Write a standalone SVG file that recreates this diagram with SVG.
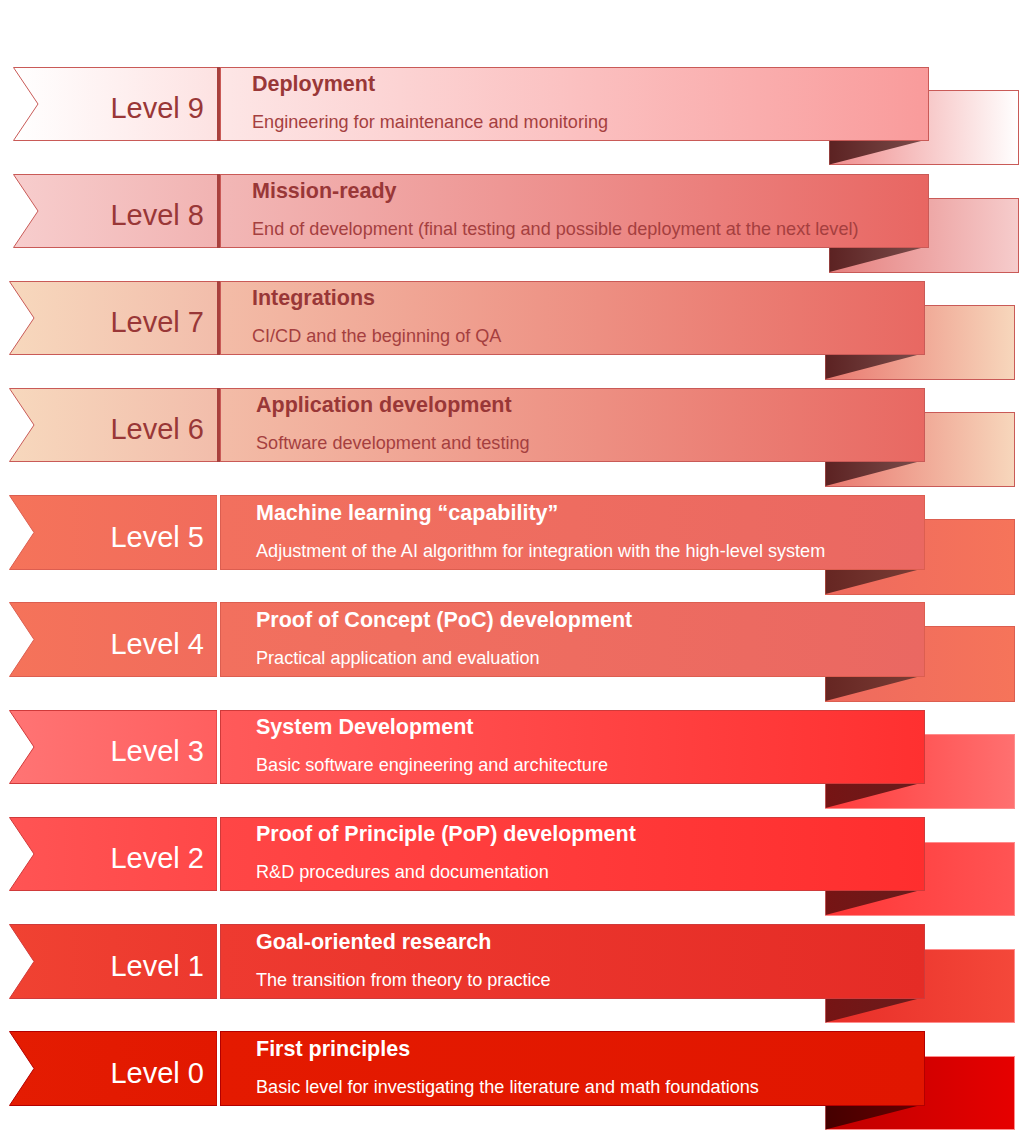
<svg xmlns="http://www.w3.org/2000/svg" width="1024" height="1140" viewBox="0 0 1024 1140">
<defs>
<linearGradient id="l9" x1="0" x2="1" y1="0" y2="0"><stop offset="0" stop-color="#ffffff"/><stop offset="1" stop-color="#fde2e2"/></linearGradient>
<linearGradient id="m9" x1="0" x2="1" y1="0" y2="0"><stop offset="0" stop-color="#fde6e6"/><stop offset="1" stop-color="#f99b9b"/></linearGradient>
<linearGradient id="b9" x1="0" x2="1" y1="0" y2="0"><stop offset="0" stop-color="#ef8d8d"/><stop offset="1" stop-color="#ffffff"/></linearGradient>
<linearGradient id="l8" x1="0" x2="1" y1="0" y2="0"><stop offset="0" stop-color="#f7cdcd"/><stop offset="1" stop-color="#f1b3b2"/></linearGradient>
<linearGradient id="m8" x1="0" x2="1" y1="0" y2="0"><stop offset="0" stop-color="#f2b7b6"/><stop offset="1" stop-color="#e86662"/></linearGradient>
<linearGradient id="b8" x1="0" x2="1" y1="0" y2="0"><stop offset="0" stop-color="#e57f7d"/><stop offset="1" stop-color="#f6cccc"/></linearGradient>
<linearGradient id="l7" x1="0" x2="1" y1="0" y2="0"><stop offset="0" stop-color="#f7d8bd"/><stop offset="1" stop-color="#f2bdab"/></linearGradient>
<linearGradient id="m7" x1="0" x2="1" y1="0" y2="0"><stop offset="0" stop-color="#f3bca7"/><stop offset="1" stop-color="#e86862"/></linearGradient>
<linearGradient id="b7" x1="0" x2="1" y1="0" y2="0"><stop offset="0" stop-color="#e9786f"/><stop offset="1" stop-color="#f7d7bc"/></linearGradient>
<linearGradient id="l5" x1="0" x2="1" y1="0" y2="0"><stop offset="0" stop-color="#f5735a"/><stop offset="1" stop-color="#f16c5c"/></linearGradient>
<linearGradient id="m5" x1="0" x2="1" y1="0" y2="0"><stop offset="0" stop-color="#f2705e"/><stop offset="1" stop-color="#ea6862"/></linearGradient>
<linearGradient id="b5" x1="0" x2="1" y1="0" y2="0"><stop offset="0" stop-color="#ee6a5e"/><stop offset="1" stop-color="#f6745a"/></linearGradient>
<linearGradient id="l3" x1="0" x2="1" y1="0" y2="0"><stop offset="0" stop-color="#ff7474"/><stop offset="1" stop-color="#ff5f5f"/></linearGradient>
<linearGradient id="m3" x1="0" x2="1" y1="0" y2="0"><stop offset="0" stop-color="#ff5a5a"/><stop offset="1" stop-color="#ff3030"/></linearGradient>
<linearGradient id="b3" x1="0" x2="1" y1="0" y2="0"><stop offset="0" stop-color="#ff3c3c"/><stop offset="1" stop-color="#ff7070"/></linearGradient>
<linearGradient id="l2" x1="0" x2="1" y1="0" y2="0"><stop offset="0" stop-color="#ff5454"/><stop offset="1" stop-color="#ff4848"/></linearGradient>
<linearGradient id="m2" x1="0" x2="1" y1="0" y2="0"><stop offset="0" stop-color="#ff4646"/><stop offset="1" stop-color="#ff2e2e"/></linearGradient>
<linearGradient id="b2" x1="0" x2="1" y1="0" y2="0"><stop offset="0" stop-color="#ff3636"/><stop offset="1" stop-color="#ff5454"/></linearGradient>
<linearGradient id="l1" x1="0" x2="1" y1="0" y2="0"><stop offset="0" stop-color="#f04232"/><stop offset="1" stop-color="#ec382e"/></linearGradient>
<linearGradient id="m1" x1="0" x2="1" y1="0" y2="0"><stop offset="0" stop-color="#ee3a30"/><stop offset="1" stop-color="#e52c26"/></linearGradient>
<linearGradient id="b1" x1="0" x2="1" y1="0" y2="0"><stop offset="0" stop-color="#e82e28"/><stop offset="1" stop-color="#f4483a"/></linearGradient>
<linearGradient id="l0" x1="0" x2="1" y1="0" y2="0"><stop offset="0" stop-color="#e41c02"/><stop offset="1" stop-color="#e21800"/></linearGradient>
<linearGradient id="m0" x1="0" x2="1" y1="0" y2="0"><stop offset="0" stop-color="#e41a00"/><stop offset="1" stop-color="#e11600"/></linearGradient>
<linearGradient id="b0" x1="0" x2="1" y1="0" y2="0"><stop offset="0" stop-color="#bf0000"/><stop offset="1" stop-color="#e60000"/></linearGradient>
<linearGradient id="tBrown" x1="0" x2="1" y1="0" y2="0"><stop offset="0" stop-color="#5c2222"/><stop offset="1" stop-color="#7a4c4a"/></linearGradient>
<linearGradient id="tRust" x1="0" x2="1" y1="0" y2="0"><stop offset="0" stop-color="#662622"/><stop offset="1" stop-color="#7a3d36"/></linearGradient>
<linearGradient id="tRed" x1="0" x2="1" y1="0" y2="0"><stop offset="0" stop-color="#761414"/><stop offset="1" stop-color="#6a1c1c"/></linearGradient>
<linearGradient id="tDark" x1="0" x2="1" y1="0" y2="0"><stop offset="0" stop-color="#450000"/><stop offset="1" stop-color="#660000"/></linearGradient>
</defs>
<style>
text { font-family: "Liberation Sans", Arial, Helvetica, sans-serif; }
.lvl { font-size: 29px; text-anchor: end; }
.ttl { font-size: 21.5px; font-weight: bold; }
.sub { font-size: 18.1px; }
.dk { fill: #993737; }
.dks { fill: #a53f3f; }
.wt { fill: #ffffff; }
.sPink { stroke: #c95a57; stroke-width: 1; }
.sOr { stroke: #dc5e50; stroke-width: 1; }
.sRed { stroke: #d03a3a; stroke-width: 1; }
.sBack { stroke: #ff8c8c; stroke-width: 1; }
.sDeep { stroke: #b30000; stroke-width: 1; }
</style>
<rect width="1024" height="1140" fill="#ffffff"/>

<!-- Level 9 -->
<g id="level-9">
<rect x="829.5" y="90.5" width="189" height="74" fill="url(#b9)" class="sPink"/>
<polygon points="829.5,140.5 923,140.5 829.5,164.5" fill="url(#tBrown)"/>
<rect x="220.5" y="67.5" width="708" height="73" fill="url(#m9)" class="sPink"/>
<polygon points="13.5,67.5 218,67.5 218,140.5 13.5,140.5 38,104" fill="url(#l9)" class="sPink"/>
<rect x="217" y="67" width="3" height="74" fill="#a8403d"/>
<text x="204" y="118" class="lvl dk">Level 9</text>
<text x="252" y="91" class="ttl dk">Deployment</text>
<text x="252" y="128" class="sub dks">Engineering for maintenance and monitoring</text>
</g>

<!-- Level 8 -->
<g id="level-8">
<rect x="829.5" y="198.5" width="189" height="74" fill="url(#b8)" class="sPink"/>
<polygon points="829.5,247.5 923,247.5 829.5,272" fill="url(#tBrown)"/>
<rect x="220.5" y="174.5" width="708" height="73" fill="url(#m8)" class="sPink"/>
<polygon points="13.5,174.5 218,174.5 218,247.5 13.5,247.5 38,211" fill="url(#l8)" class="sPink"/>
<rect x="217" y="174" width="3" height="74" fill="#a8403d"/>
<text x="204" y="225" class="lvl dk">Level 8</text>
<text x="252" y="198" class="ttl dk">Mission-ready</text>
<text x="252" y="235" class="sub dks">End of development (final testing and possible deployment at the next level)</text>
</g>

<!-- Level 7 -->
<g id="level-7">
<rect x="825.5" y="305.5" width="189" height="74" fill="url(#b7)" class="sPink"/>
<polygon points="825.5,354.5 919,354.5 825.5,379" fill="url(#tBrown)"/>
<rect x="220.5" y="281.5" width="704" height="73" fill="url(#m7)" class="sPink"/>
<polygon points="9.5,281.5 218,281.5 218,354.5 9.5,354.5 34,318" fill="url(#l7)" class="sPink"/>
<rect x="217" y="281" width="3" height="74" fill="#a8403d"/>
<text x="204" y="332" class="lvl dk">Level 7</text>
<text x="252" y="305" class="ttl dk">Integrations</text>
<text x="252" y="342" class="sub dks">CI/CD and the beginning of QA</text>
</g>

<!-- Level 6 -->
<g id="level-6">
<rect x="825.5" y="412.5" width="189" height="74" fill="url(#b7)" class="sPink"/>
<polygon points="825.5,461.5 919,461.5 825.5,486" fill="url(#tBrown)"/>
<rect x="220.5" y="388.5" width="704" height="73" fill="url(#m7)" class="sPink"/>
<polygon points="9.5,388.5 218,388.5 218,461.5 9.5,461.5 34,425" fill="url(#l7)" class="sPink"/>
<rect x="217" y="388" width="3" height="74" fill="#a8403d"/>
<text x="204" y="439" class="lvl dk">Level 6</text>
<text x="256" y="412" class="ttl dk">Application development</text>
<text x="256" y="449" class="sub dks">Software development and testing</text>
</g>

<!-- Level 5 -->
<g id="level-5">
<rect x="825.5" y="519.5" width="189" height="75" fill="url(#b5)" class="sOr"/>
<polygon points="825.5,569.5 919,569.5 825.5,594" fill="url(#tRust)"/>
<rect x="220.5" y="495.5" width="704" height="74" fill="url(#m5)" class="sOr"/>
<polygon points="9.5,495.5 217,495.5 217,569.5 9.5,569.5 34,532.5" fill="url(#l5)" class="sOr"/>
<rect x="217" y="495" width="3" height="75" fill="#ffffff"/>
<text x="204" y="547" class="lvl wt">Level 5</text>
<text x="256" y="520" class="ttl wt">Machine learning “capability”</text>
<text x="256" y="557" class="sub wt">Adjustment of the AI algorithm for integration with the high-level system</text>
</g>

<!-- Level 4 -->
<g id="level-4">
<rect x="825.5" y="626.5" width="189" height="75" fill="url(#b5)" class="sOr"/>
<polygon points="825.5,676.5 919,676.5 825.5,701" fill="url(#tRust)"/>
<rect x="220.5" y="602.5" width="704" height="74" fill="url(#m5)" class="sOr"/>
<polygon points="9.5,602.5 217,602.5 217,676.5 9.5,676.5 34,639.5" fill="url(#l5)" class="sOr"/>
<rect x="217" y="602" width="3" height="75" fill="#ffffff"/>
<text x="204" y="654" class="lvl wt">Level 4</text>
<text x="256" y="627" class="ttl wt">Proof of Concept (PoC) development</text>
<text x="256" y="664" class="sub wt">Practical application and evaluation</text>
</g>

<!-- Level 3 -->
<g id="level-3">
<rect x="825.5" y="734.5" width="189" height="74" fill="url(#b3)" class="sBack"/>
<polygon points="825.5,783.5 919,783.5 825.5,808" fill="url(#tRed)"/>
<rect x="220.5" y="710.5" width="704" height="73" fill="url(#m3)" class="sRed"/>
<polygon points="9.5,710.5 217,710.5 217,783.5 9.5,783.5 34,747" fill="url(#l3)" class="sRed"/>
<rect x="217" y="710" width="3" height="74" fill="#ffffff"/>
<text x="204" y="761" class="lvl wt">Level 3</text>
<text x="256" y="734" class="ttl wt">System Development</text>
<text x="256" y="771" class="sub wt">Basic software engineering and architecture</text>
</g>

<!-- Level 2 -->
<g id="level-2">
<rect x="825.5" y="842.5" width="189" height="73" fill="url(#b2)" class="sBack"/>
<polygon points="825.5,890.5 919,890.5 825.5,915" fill="url(#tRed)"/>
<rect x="220.5" y="817.5" width="704" height="73" fill="url(#m2)" class="sRed"/>
<polygon points="9.5,817.5 217,817.5 217,890.5 9.5,890.5 34,854" fill="url(#l2)" class="sRed"/>
<rect x="217" y="817" width="3" height="74" fill="#ffffff"/>
<text x="204" y="868" class="lvl wt">Level 2</text>
<text x="256" y="841" class="ttl wt">Proof of Principle (PoP) development</text>
<text x="256" y="878" class="sub wt">R&amp;D procedures and documentation</text>
</g>

<!-- Level 1 -->
<g id="level-1">
<rect x="825.5" y="949.5" width="189" height="73" fill="url(#b1)" class="sBack"/>
<polygon points="825.5,998.5 919,998.5 825.5,1022.5" fill="url(#tRed)"/>
<rect x="220.5" y="924.5" width="704" height="74" fill="url(#m1)" class="sRed"/>
<polygon points="9.5,924.5 217,924.5 217,998.5 9.5,998.5 34,961.5" fill="url(#l1)" class="sRed"/>
<rect x="217" y="924" width="3" height="75" fill="#ffffff"/>
<text x="204" y="976" class="lvl wt">Level 1</text>
<text x="256" y="949" class="ttl wt">Goal-oriented research</text>
<text x="256" y="986" class="sub wt">The transition from theory to practice</text>
</g>

<!-- Level 0 -->
<g id="level-0">
<rect x="825.5" y="1056.5" width="189" height="73" fill="url(#b0)" class="sBack"/>
<polygon points="825.5,1105.5 919,1105.5 825.5,1129.5" fill="url(#tDark)"/>
<rect x="220.5" y="1031.5" width="704" height="74" fill="url(#m0)" class="sDeep"/>
<polygon points="9.5,1031.5 217,1031.5 217,1105.5 9.5,1105.5 34,1068.5" fill="url(#l0)" class="sDeep"/>
<rect x="217" y="1031" width="3" height="75" fill="#ffffff"/>
<text x="204" y="1083" class="lvl wt">Level 0</text>
<text x="256" y="1056" class="ttl wt">First principles</text>
<text x="256" y="1093" class="sub wt">Basic level for investigating the literature and math foundations</text>
</g>
</svg>
